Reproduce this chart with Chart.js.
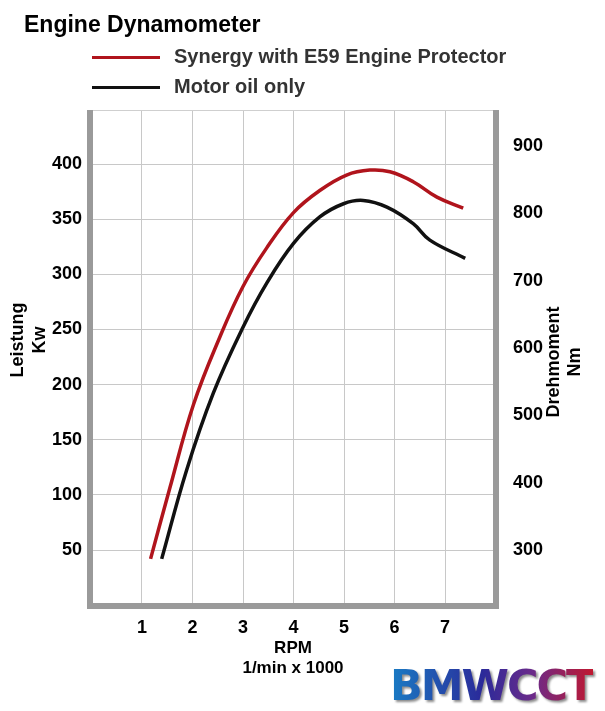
<!DOCTYPE html>
<html>
<head>
<meta charset="utf-8">
<script src="https://cdn.jsdelivr.net/npm/chart.js@4"></script>
<style>
  body { margin: 0; background: #fff; font-family: "Liberation Sans", Arial, sans-serif; }
  #wrap { position: relative; width: 605px; height: 711px; }
  canvas { position: absolute; left: 0; top: 0; }
  .titel { position: absolute; left: 24px; top: 11px; font-weight: bold; font-size: 23px; color: #000; }
  .leg { position: absolute; left: 92px; font-weight: bold; font-size: 20px; color: #333; }
  .leg span { display: inline-block; width: 68px; height: 3px; vertical-align: middle; margin-right: 14px; }
  .logo { position: absolute; left: 390px; top: 660px; font-family: "DejaVu Sans", sans-serif; font-weight: bold; font-size: 43px; letter-spacing: -2px;
          background: linear-gradient(90deg, #1a7cc4, #2a2a9a 45%, #6a2a8a 70%, #c01830); -webkit-background-clip: text; color: transparent;
          filter: drop-shadow(2px 2px 1px rgba(0,0,0,0.45)); }
</style>
</head>
<body>
<div id="wrap">
  <canvas id="grafico" width="605" height="711"></canvas>
  <div class="titel">Engine Dynamometer</div>
  <div class="leg" style="top:45px"><span style="background:#b0141c"></span>Synergy with E59 Engine Protector</div>
  <div class="leg" style="top:75px"><span style="background:#111"></span>Motor oil only</div>
  <div class="logo">BMWCCT</div>
</div>
<script>
// Dados (RPM x 1000, Leistung Kw)
const rpmSynergy = [1.17, 1.55, 2.02, 2.54, 3.0, 3.47, 4.0, 4.52, 5.05, 5.51, 5.91, 6.37, 6.84, 7.36];
const kwSynergy = [42, 106, 182, 243, 289, 324, 356, 376, 390, 394.5, 393, 384, 370, 360];
const rpmMotorOil = [1.39, 1.88, 2.41, 3.0, 3.47, 4.0, 4.52, 4.99, 5.38, 5.85, 6.37, 6.70, 7.40];
const kwMotorOil = [42, 122, 192, 252, 292, 328, 352, 364, 367, 361, 346, 331, 314.5];

const ticksRpm = [1, 2, 3, 4, 5, 6, 7];
const ticksKw = [50, 100, 150, 200, 250, 300, 350, 400];
const ticksNm = [300, 400, 500, 600, 700, 800, 900];

const pontos = (xs, ys) => xs.map((x, i) => ({ x: x, y: ys[i] }));
const fonteTicks = { family: 'Liberation Sans', size: 18, weight: 'bold' };

// Moldura cinza e títulos verticais dos eixos
const moldura = {
  id: 'moldura',
  beforeDatasetsDraw(chart) {
    const { ctx, chartArea: a } = chart;
    ctx.save();
    ctx.strokeStyle = '#cfcfcf';
    ctx.lineWidth = 1;
    ctx.beginPath(); ctx.moveTo(a.left, a.top + 0.5); ctx.lineTo(a.right, a.top + 0.5); ctx.stroke();
    ctx.strokeStyle = '#9a9a9a';
    ctx.lineWidth = 6;
    ctx.beginPath();
    ctx.moveTo(a.left - 3, a.top); ctx.lineTo(a.left - 3, a.bottom + 3);
    ctx.lineTo(a.right + 3, a.bottom + 3); ctx.lineTo(a.right + 3, a.top);
    ctx.stroke();
    ctx.restore();
  },
  afterDraw(chart) {
    const ctx = chart.ctx;
    ctx.save();
    ctx.fillStyle = '#000';
    ctx.font = 'bold 18px "Liberation Sans"';
    ctx.textAlign = 'center';
    ctx.textBaseline = 'middle';
    const texto = (t, x, y) => { ctx.save(); ctx.translate(x, y); ctx.rotate(-Math.PI / 2); ctx.fillText(t, 0, 0); ctx.restore(); };
    texto('Leistung', 18, 340);
    texto('Kw', 40, 340);
    texto('Drehmoment', 554, 362);
    texto('Nm', 575, 362);
    ctx.restore();
  }
};

new Chart(document.getElementById('grafico'), {
  type: 'line',
  data: {
    datasets: [
      { data: pontos(rpmSynergy, kwSynergy), borderColor: '#b0141c', borderWidth: 3.5, pointRadius: 0, tension: 0.4 },
      { data: pontos(rpmMotorOil, kwMotorOil), borderColor: '#111', borderWidth: 3.5, pointRadius: 0, tension: 0.4 }
    ]
  },
  options: {
    responsive: false,
    animation: false,
    layout: { padding: { top: 110, bottom: 32, left: 0, right: 0 } },
    plugins: { legend: { display: false }, tooltip: { enabled: false } },
    scales: {
      x: {
        type: 'linear', min: 0.03, max: 7.95,
        afterBuildTicks: s => { s.ticks = ticksRpm.map(v => ({ value: v })); },
        afterFit: s => { s.height = 76; },
        grid: { color: '#c8c8c8', drawTicks: false },
        border: { display: false },
        ticks: { color: '#000', font: fonteTicks, padding: 14 },
        title: { display: true, text: ['RPM', '1/min x 1000'], color: '#000', font: { family: 'Liberation Sans', size: 17, weight: 'bold' }, padding: 0 }
      },
      y: {
        position: 'left', min: 2, max: 449,
        afterBuildTicks: s => { s.ticks = ticksKw.map(v => ({ value: v })); },
        afterFit: s => { s.width = 93; },
        grid: { color: '#c8c8c8', drawTicks: false },
        border: { display: false },
        ticks: { color: '#000', font: fonteTicks, padding: 11 }
      },
      y2: {
        position: 'right', min: 221, max: 953.6,
        afterBuildTicks: s => { s.ticks = ticksNm.map(v => ({ value: v })); },
        afterFit: s => { s.width = 112; },
        grid: { display: false },
        border: { display: false },
        ticks: { color: '#000', font: fonteTicks, padding: 12 }
      }
    }
  },
  plugins: [moldura]
});
</script>
</body>
</html>
